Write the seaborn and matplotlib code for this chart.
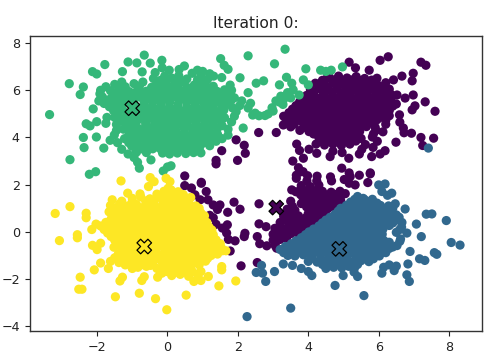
import pandas as pd
import matplotlib
matplotlib.use("Agg")
import matplotlib.pyplot as plt
import seaborn as sns

# Points, one list per cluster
green_points = [
    (-3.35, 4.97), (-2.79, 6.28), (-2.39, 6.14), (-2.48, 5.82), (-2.13, 6.79), (-2.01, 6.69), (-1.78, 7.09),
    (-1.28, 6.79), (-1.12, 7.2), (-0.87, 7.16), (-0.66, 7.49), (-0.49, 7.15), (-0.16, 7.27), (-0.72, 6.78),
    (0.48, 7.03), (0.33, 6.88), (1.51, 7.34), (1.61, 7.06), (1.72, 6.89), (1.54, 6.54), (2.06, 6.53),
    (1.78, 6.22), (2.29, 7.46), (2.29, 5.9), (2.11, 5.55), (2.29, 5.25), (2.15, 4.4), (-2.11, 5.21),
    (-2.39, 4.0), (-2.02, 4.02), (-2.37, 3.57), (-2.77, 3.06), (-1.81, 3.55), (-2.22, 2.44), (-2.04, 2.55),
    (-2.31, 4.58), (-2.2, 4.49), (-2.01, 4.67), (-1.51, 4.11), (-1.63, 3.88), (-0.47, 3.05), (-0.8, 2.7),
    (-0.12, 2.58), (0.1, 2.8), (-0.95, 3.15), (-0.85, 2.95), (0.0, 2.75),
    (3.34, 7.74), (3.04, 7.12), (3.93, 6.91), (4.35, 6.85), (4.65, 6.85), (4.97, 6.99), (4.5, 6.8),
    (3.38, 6.55), (2.73, 6.4), (2.52, 6.3), (3.18, 6.23), (3.53, 6.3), (3.86, 6.44), (4.0, 6.23),
    (3.57, 6.02), (3.74, 5.8), (3.41, 5.9), (3.22, 5.75), (3.08, 5.55), (2.97, 5.26), (3.3, 5.62),
    (3.5, 5.68), (2.77, 4.93), (2.49, 5.03), (2.36, 5.45), (3.0, 5.12), (3.28, 5.4), (3.18, 5.5),
    (-0.08, 6.6), (0.12, 6.52), (0.32, 6.62), (0.55, 6.48), (0.95, 6.58), (1.14, 6.47), (1.31, 6.6),
    (-0.95, 6.28), (-0.7, 6.35), (-0.3, 6.24), (-0.05, 6.33), (0.2, 6.25), (0.44, 6.36), (0.76, 6.22), (1.02, 6.3),
    (-1.62, 5.98), (-1.36, 6.05), (-1.1, 5.95), (-0.84, 6.04), (-0.6, 5.96), (-0.36, 6.06), (-0.1, 5.97),
    (0.15, 6.03), (0.41, 5.95), (0.65, 6.05), (0.9, 5.98), (1.16, 6.02), (1.4, 5.96), (1.62, 6.02),
    (-1.85, 5.72), (-1.6, 5.66), (-1.34, 5.76), (-1.1, 5.68), (-0.8, 5.74), (-0.55, 5.66), (-0.3, 5.75), (-0.05, 5.68),
    (0.2, 5.74), (0.45, 5.67), (0.7, 5.76), (0.95, 5.68), (1.2, 5.74), (1.45, 5.66), (1.7, 5.74), (1.9, 5.68),
    (-1.8, 5.44), (-1.5, 5.4), (-1.26, 5.5), (-0.66, 5.42), (-0.42, 5.5), (-0.18, 5.42), (0.06, 5.48), (0.3, 5.4),
    (0.54, 5.5), (0.78, 5.42), (1.02, 5.48), (1.26, 5.41), (1.5, 5.47), (1.72, 5.42),
    (-1.53, 5.13), (-1.28, 5.2), (-1.03, 5.1), (-0.78, 5.18), (-0.54, 5.11), (-0.3, 5.19), (-0.06, 5.12), (0.18, 5.18),
    (0.42, 5.1), (0.66, 5.2), (0.9, 5.12), (1.14, 5.18), (1.38, 5.1), (1.6, 5.16),
    (-1.5, 4.85), (-1.24, 4.8), (-1.0, 4.9), (-0.76, 4.82), (-0.52, 4.88), (-0.28, 4.8), (-0.04, 4.88), (0.2, 4.82),
    (0.44, 4.9), (0.68, 4.82), (0.92, 4.88), (1.16, 4.8), (1.36, 4.88), (1.62, 4.84), (1.82, 4.66),
    (-1.45, 4.55), (-1.2, 4.6), (-0.96, 4.52), (-0.62, 4.58), (-0.38, 4.5), (-0.14, 4.58), (0.1, 4.52), (0.34, 4.58),
    (0.58, 4.5), (0.82, 4.58), (1.06, 4.52), (1.3, 4.56), (1.55, 4.5), (1.72, 4.35),
    (-0.96, 4.24), (-0.72, 4.3), (-0.48, 4.22), (-0.24, 4.3), (0.0, 4.22), (0.24, 4.28), (0.48, 4.2), (0.72, 4.28),
    (0.96, 4.22), (1.2, 4.26), (1.42, 4.14),
    (-1.22, 3.95), (-0.98, 3.9), (-0.74, 3.98), (-0.5, 3.9), (-0.26, 3.96), (-0.02, 3.9), (0.22, 3.96), (0.46, 3.9),
    (0.7, 3.96), (0.94, 3.9), (1.16, 3.94), (1.38, 3.84), (-1.42, 3.78),
    (-1.02, 3.64), (-0.78, 3.6), (-0.54, 3.66), (-0.3, 3.6), (-0.06, 3.65), (0.18, 3.6), (0.42, 3.66), (0.66, 3.6), (0.92, 3.62),
    (-0.88, 3.38), (-0.6, 3.36), (-0.14, 3.34), (0.06, 3.3), (0.28, 3.34), (0.52, 3.32), (0.74, 3.36),
    # between the rows above
    (-0.2, 6.42), (0.2, 6.4), (0.85, 6.44), (1.1, 6.4),
    (-1.2, 6.15), (-0.8, 6.17), (-0.45, 6.13), (-0.2, 6.16), (0.05, 6.14), (0.3, 6.17), (0.55, 6.13), (0.85, 6.16), (1.1, 6.14), (1.3, 6.17),
    (-1.5, 5.87), (-1.25, 5.84), (-1.0, 5.88), (-0.72, 5.85), (-0.48, 5.88), (-0.22, 5.84), (0.03, 5.87), (0.28, 5.85),
    (0.53, 5.88), (0.78, 5.85), (1.03, 5.87), (1.28, 5.84), (1.52, 5.87), (1.78, 5.85),
    (-1.72, 5.58), (-1.45, 5.55), (-1.2, 5.6), (-0.95, 5.56), (-0.68, 5.58), (-0.42, 5.55), (-0.18, 5.59), (0.07, 5.56),
    (0.32, 5.6), (0.57, 5.56), (0.82, 5.58), (1.07, 5.55), (1.32, 5.59), (1.57, 5.56), (1.8, 5.55),
    (-1.65, 5.3), (-1.4, 5.27), (-0.7, 5.3), (-0.45, 5.28), (-0.2, 5.31), (0.05, 5.28), (0.3, 5.3), (0.55, 5.27),
    (0.8, 5.31), (1.05, 5.28), (1.3, 5.3), (1.55, 5.28),
    (-1.4, 5.0), (-1.15, 4.98), (-0.9, 5.02), (-0.65, 4.99), (-0.4, 5.02), (-0.15, 4.98), (0.08, 5.01), (0.32, 4.98),
    (0.56, 5.02), (0.8, 4.98), (1.04, 5.01), (1.28, 4.98), (1.5, 5.0),
    (-1.35, 4.7), (-1.1, 4.68), (-0.86, 4.72), (-0.62, 4.69), (-0.38, 4.72), (-0.14, 4.68), (0.1, 4.71), (0.34, 4.68),
    (0.58, 4.72), (0.82, 4.69), (1.06, 4.71), (1.3, 4.68), (1.52, 4.7),
    (-1.1, 4.4), (-0.82, 4.38), (-0.55, 4.42), (-0.3, 4.38), (-0.06, 4.41), (0.2, 4.38), (0.46, 4.42), (0.7, 4.39),
    (0.94, 4.41), (1.18, 4.38), (1.42, 4.4),
    (-1.1, 4.08), (-0.85, 4.06), (-0.6, 4.1), (-0.36, 4.07), (-0.12, 4.1), (0.12, 4.06), (0.36, 4.09), (0.6, 4.06),
    (0.84, 4.1), (1.08, 4.07), (1.3, 4.06),
    (-1.1, 3.78), (-0.86, 3.76), (-0.62, 3.8), (-0.38, 3.77), (-0.14, 3.8), (0.1, 3.76), (0.34, 3.79), (0.58, 3.76),
    (0.82, 3.8), (1.02, 3.77),
    (-0.9, 3.5), (-0.66, 3.48), (-0.42, 3.52), (-0.18, 3.49), (0.06, 3.52), (0.3, 3.48), (0.54, 3.5), (0.78, 3.48),
    # fringe of the blob
    (-1.9, 6.0), (-1.92, 5.85), (-1.95, 5.55), (-1.75, 6.15), (-1.5, 6.25), (-1.3, 6.35), (-1.72, 4.85), (-1.75, 4.6),
    (-1.25, 4.35), (-1.45, 4.3), (-1.3, 3.5), (-1.12, 3.3), (0.95, 3.35), (1.2, 3.65), (1.55, 3.95), (1.72, 4.1),
    (1.9, 4.9), (1.95, 5.1), (1.85, 5.25), (2.05, 5.35), (1.82, 6.0), (2.42, 4.95), (2.6, 4.92), (2.86, 5.0),
    (0.7, 6.72), (0.85, 6.85), (1.0, 6.8), (1.2, 6.7), (-0.35, 6.75), (-0.15, 6.95), (0.05, 6.85), (-0.4, 6.5),
]

purple_points = [
    (5.16, 7.19), (5.34, 6.95), (6.04, 7.27), (6.27, 7.42), (7.2, 7.19), (7.34, 7.06), (6.98, 6.72), (6.95, 6.4),
    (5.73, 6.85), (6.66, 6.6), (6.42, 6.44), (5.95, 6.51), (4.53, 6.51), (6.98, 5.8), (7.32, 5.51), (7.6, 5.11),
    (6.75, 5.67), (6.52, 5.8), (6.95, 5.17), (7.03, 5.34), (7.56, 3.97), (7.2, 4.0), (7.25, 3.66), (6.93, 4.18),
    (6.7, 4.4), (6.72, 4.2), (6.49, 3.8), (6.59, 4.96), (6.6, 4.65), (2.59, 4.21), (3.09, 4.21), (3.29, 4.53),
    (3.67, 3.72), (3.56, 3.0), (3.86, 3.12), (3.75, 3.45), (4.02, 3.5), (4.24, 3.33), (4.62, 3.19), (4.95, 2.7),
    (5.15, 3.12), (5.45, 3.3), (5.8, 3.19), (6.04, 3.3), (6.18, 3.44), (3.72, 2.72), (3.85, 2.55), (3.66, 2.4),
    (3.98, 2.38), (4.25, 2.36), (4.63, 2.33), (5.16, 2.5), (5.45, 2.4), (5.76, 2.5),
    (1.95, 3.9), (2.18, 3.67), (2.21, 3.33), (1.99, 3.03), (1.54, 3.44), (1.38, 3.03), (1.38, 2.88), (0.49, 2.37),
    (0.96, 2.1), (0.49, 1.96), (0.68, 1.86), (0.78, 1.57), (0.93, 1.36), (0.96, 2.06), (1.1, 1.71), (1.15, 1.36),
    (1.3, 1.14), (1.49, 1.14), (1.89, 1.26), (2.06, 0.96), (1.71, 0.83), (1.42, 0.95), (1.2, 0.7), (1.07, 0.51),
    (1.3, 0.6), (1.38, 0.32), (1.7, 0.3), (1.56, 0.16), (1.68, -0.05), (2.2, -0.06), (2.18, -0.2), (1.73, -0.32),
    (1.92, -0.38), (1.78, -0.81), (2.09, -1.44), (3.79, 2.55), (5.19, 2.34), (5.76, 2.46), (3.66, 2.27), (3.96, 2.16),
    (4.24, 2.16), (4.66, 2.16), (5.02, 2.22), (5.69, 2.09), (5.16, 2.06), (5.33, 1.99), (3.53, 1.78), (2.6, 1.19),
    (2.6, 0.34), (2.8, 0.22), (2.55, -0.2), (2.62, -0.5), (2.82, -0.59), (2.55, -1.3), (3.1, -0.69),
    (4.6, 6.55), (4.86, 6.6), (5.1, 6.52), (5.36, 6.58), (5.6, 6.5),
    (4.2, 6.3), (4.45, 6.24), (4.7, 6.32), (4.95, 6.26), (5.2, 6.33), (5.45, 6.25), (5.7, 6.3), (5.96, 6.24), (6.2, 6.32),
    (4.06, 6.03), (4.3, 6.08), (4.55, 6.0), (4.8, 6.06), (5.05, 5.98), (5.3, 6.05), (5.55, 5.98), (5.8, 6.06), (6.05, 6.0), (6.3, 6.05),
    (3.95, 5.78), (4.2, 5.72), (4.45, 5.8), (4.7, 5.74), (4.95, 5.8), (5.2, 5.72), (5.45, 5.8), (5.7, 5.74), (5.95, 5.78), (6.2, 5.72), (6.35, 5.82),
    (3.75, 5.5), (4.0, 5.45), (4.25, 5.52), (4.5, 5.46), (4.75, 5.52), (5.0, 5.45), (5.25, 5.52), (5.5, 5.46), (5.75, 5.5), (6.0, 5.44), (6.25, 5.5), (6.5, 5.42),
    (3.55, 5.2), (3.8, 5.15), (4.05, 5.22), (4.3, 5.16), (4.55, 5.22), (4.8, 5.15), (5.05, 5.22), (5.3, 5.16), (5.55, 5.22), (5.8, 5.15), (6.05, 5.2), (6.3, 5.14),
    (3.3, 4.9), (3.55, 4.85), (3.8, 4.92), (4.05, 4.86), (4.3, 4.92), (4.55, 4.85), (4.8, 4.92), (5.05, 4.86), (5.3, 4.92), (5.55, 4.85), (5.8, 4.9), (6.05, 4.86), (6.3, 4.92),
    (3.35, 4.6), (3.6, 4.56), (3.85, 4.62), (4.1, 4.56), (4.35, 4.62), (4.6, 4.55), (4.85, 4.62), (5.1, 4.56), (5.35, 4.62), (5.6, 4.55), (5.85, 4.6), (6.2, 4.56),
    (3.76, 4.3), (4.02, 4.25), (4.28, 4.32), (4.54, 4.26), (4.78, 4.32), (5.02, 4.26), (5.26, 4.32), (5.46, 4.26), (5.92, 4.3), (6.12, 4.24),
    (4.3, 4.0), (4.54, 3.96), (4.78, 4.02), (5.02, 3.96), (5.26, 4.02), (5.5, 3.96), (5.82, 4.02), (5.96, 3.84),
    (4.22, 3.72), (4.46, 3.68), (4.7, 3.72), (4.94, 3.66), (5.18, 3.72), (5.62, 3.7), (5.84, 3.58),
    (4.7, 3.42), (4.96, 3.36), (5.52, 3.5),
    (3.8, 1.96), (4.05, 1.92), (4.3, 1.98),
    (3.65, 1.7), (3.9, 1.74), (4.15, 1.68), (4.4, 1.72), (4.65, 1.68), (4.9, 1.72),
    (3.85, 1.45), (4.1, 1.42), (4.35, 1.48), (4.6, 1.42), (4.85, 1.46), (5.05, 1.62),
    (3.5, 1.3), (3.8, 1.2), (4.05, 1.24), (4.3, 1.18), (4.55, 1.24), (4.8, 1.2),
    (3.4, 0.96), (3.62, 0.92), (4.1, 0.96), (4.35, 0.92), (4.55, 0.98),
    (3.3, 0.66), (3.55, 0.62), (3.72, 0.68), (4.2, 0.66), (4.4, 0.62), (3.95, 0.62),
    (3.2, 0.4), (3.45, 0.36), (3.7, 0.42), (3.95, 0.36), (4.15, 0.42),
    (3.05, 0.15), (3.3, 0.12), (3.55, 0.16), (3.8, 0.12), (3.96, 0.22),
    (3.0, -0.1), (3.25, -0.12), (3.5, -0.08), (3.66, -0.02),
    (3.0, -0.35), (3.2, -0.32), (3.38, -0.26), (3.06, -0.58),
    # between the rows above
    (4.4, 6.42), (4.75, 6.44), (5.0, 6.41), (5.25, 6.44), (5.5, 6.41), (5.8, 6.43),
    (4.3, 6.17), (4.55, 6.15), (4.82, 6.18), (5.08, 6.15), (5.32, 6.18), (5.58, 6.15), (5.82, 6.17), (6.08, 6.15),
    (4.15, 5.92), (4.42, 5.9), (4.68, 5.93), (4.92, 5.9), (5.18, 5.93), (5.42, 5.9), (5.68, 5.92), (5.92, 5.9), (6.18, 5.92),
    (3.85, 5.65), (4.1, 5.62), (4.35, 5.66), (4.6, 5.63), (4.85, 5.66), (5.1, 5.62), (5.35, 5.65), (5.6, 5.62), (5.85, 5.66), (6.1, 5.63), (6.35, 5.65),
    (3.65, 5.35), (3.9, 5.33), (4.15, 5.36), (4.4, 5.33), (4.65, 5.36), (4.9, 5.32), (5.15, 5.35), (5.4, 5.33), (5.65, 5.36), (5.9, 5.33), (6.15, 5.35), (6.4, 5.33),
    (3.45, 5.05), (3.7, 5.03), (3.95, 5.06), (4.2, 5.03), (4.45, 5.06), (4.7, 5.02), (4.95, 5.05), (5.2, 5.03), (5.45, 5.06), (5.7, 5.03), (5.95, 5.05), (6.2, 5.03),
    (3.45, 4.75), (3.7, 4.73), (3.95, 4.76), (4.2, 4.73), (4.45, 4.76), (4.7, 4.72), (4.95, 4.75), (5.2, 4.73), (5.45, 4.76), (5.7, 4.73), (5.95, 4.75), (6.2, 4.73),
    (3.5, 4.45), (3.9, 4.43), (4.15, 4.46), (4.4, 4.43), (4.65, 4.46), (4.9, 4.42), (5.15, 4.45), (5.4, 4.43), (5.65, 4.46), (5.9, 4.43),
    (4.15, 4.15), (4.4, 4.13), (4.65, 4.16), (4.9, 4.13), (5.15, 4.16), (5.4, 4.13), (5.85, 4.15),
    (4.4, 3.85), (4.65, 3.83), (4.9, 3.86), (5.1, 3.83), (5.35, 3.85),
    (3.8, 1.82), (4.05, 1.8), (4.28, 1.83),
    (3.78, 1.58), (4.02, 1.56), (4.28, 1.59), (4.52, 1.56), (4.78, 1.58), (4.95, 1.56),
    (3.95, 1.32), (4.2, 1.3), (4.45, 1.33), (4.7, 1.3), (4.92, 1.32),
    (3.55, 1.08), (3.95, 1.06), (4.18, 1.09), (4.42, 1.06), (4.68, 1.08),
    (3.5, 0.8), (4.0, 0.78), (4.25, 0.81), (4.48, 0.78),
    (3.35, 0.52), (3.6, 0.5), (3.85, 0.53), (4.08, 0.5), (4.3, 0.52),
    (3.2, 0.27), (3.45, 0.25), (3.7, 0.28), (3.92, 0.25),
    (3.15, 0.02), (3.4, 0.0), (3.65, 0.03),
    (3.12, -0.22), (3.35, -0.2),
]

blue_points = [
    (6.0, 1.99), (6.18, 2.03), (6.09, 1.71), (6.37, 1.64), (6.25, 1.55), (6.47, 1.19), (6.75, 0.97), (7.35, 0.75),
    (7.51, 0.76), (7.92, 0.48), (7.07, 0.33), (7.21, -0.2), (6.8, -0.05), (8.06, -0.45), (8.31, -0.56), (7.65, -0.95),
    (7.58, -0.88), (6.89, -0.83), (7.16, -1.14), (7.31, -1.21), (6.83, -1.36), (6.44, -1.64), (6.3, -1.4), (6.5, -1.45),
    (6.14, -1.5), (6.09, -1.75), (6.8, -1.82), (6.87, -2.1), (4.76, -2.27), (5.58, -2.7), (3.5, -3.23), (2.26, -3.59),
    (3.04, -1.68), (2.52, -1.72), (2.67, -1.42), (2.79, -2.1), (2.7, -1.75), (3.29, -1.36), (3.55, -1.42), (3.8, -1.55),
    (4.1, -1.85), (4.0, -1.68), (4.5, -1.55), (4.99, -1.85), (5.4, -1.89), (5.3, -1.7), (7.41, 3.55),
    (5.4, 1.5), (5.56, 1.42), (5.2, 1.26), (5.45, 1.22), (5.7, 1.28), (5.95, 1.22),
    (4.92, 1.0), (5.15, 0.96), (5.4, 1.02), (5.65, 0.96), (5.9, 1.02), (6.15, 0.96), (6.4, 1.0),
    (4.76, 0.75), (5.0, 0.72), (5.25, 0.78), (5.5, 0.72), (5.75, 0.78), (6.0, 0.72), (6.25, 0.78), (6.5, 0.72),
    (4.5, 0.5), (4.75, 0.46), (5.0, 0.52), (5.25, 0.46), (5.5, 0.52), (5.75, 0.46), (6.0, 0.52), (6.25, 0.46), (6.5, 0.5), (6.66, 0.4),
    (4.3, 0.25), (4.55, 0.22), (4.8, 0.27), (5.05, 0.22), (5.3, 0.27), (5.55, 0.22), (5.8, 0.27), (6.05, 0.22), (6.3, 0.27), (6.65, 0.2),
    (4.02, 0.0), (4.26, -0.04), (4.5, 0.02), (4.75, -0.03), (5.0, 0.02), (5.25, -0.04), (5.5, 0.02), (5.75, -0.03), (6.0, 0.02), (6.5, -0.02),
    (3.8, -0.25), (4.05, -0.28), (4.3, -0.22), (4.55, -0.28), (4.8, -0.22), (5.05, -0.28), (5.3, -0.22), (5.55, -0.28), (5.8, -0.22), (6.05, -0.25), (6.62, -0.3),
    (3.52, -0.5), (3.76, -0.53), (4.0, -0.48), (4.25, -0.53), (4.5, -0.48), (5.1, -0.52), (5.35, -0.47), (5.6, -0.53), (5.85, -0.48), (6.1, -0.5), (6.3, -0.44), (6.52, -0.58),
    (3.2, -0.75), (3.44, -0.78), (3.68, -0.72), (3.92, -0.78), (4.16, -0.73), (4.4, -0.78), (4.66, -0.73), (5.1, -0.78), (5.35, -0.72), (5.6, -0.78), (5.85, -0.72), (6.1, -0.76), (6.3, -0.7),
    (3.42, -1.0), (3.62, -1.02), (3.86, -0.97), (4.1, -1.02), (4.35, -0.98), (4.6, -1.02), (4.85, -0.97), (5.1, -1.02), (5.35, -0.98), (5.6, -1.02), (5.85, -0.98), (6.02, -1.02),
    (4.0, -1.25), (4.25, -1.28), (4.5, -1.23), (4.75, -1.28), (5.0, -1.23), (5.25, -1.28), (5.5, -1.22), (5.72, -1.26),
    (4.72, -1.5), (4.95, -1.52), (5.15, -1.46), (5.32, -1.5),
    # between the rows above
    (5.32, 1.38), (5.6, 1.36), (5.82, 1.38),
    (5.08, 1.12), (5.32, 1.1), (5.58, 1.13), (5.82, 1.1), (6.05, 1.12), (6.28, 1.1),
    (4.85, 0.88), (5.1, 0.86), (5.35, 0.89), (5.6, 0.86), (5.85, 0.88), (6.1, 0.86), (6.35, 0.88),
    (4.62, 0.62), (4.88, 0.6), (5.12, 0.63), (5.38, 0.6), (5.62, 0.62), (5.88, 0.6), (6.12, 0.63), (6.38, 0.6), (6.58, 0.62),
    (4.4, 0.38), (4.65, 0.36), (4.9, 0.39), (5.15, 0.36), (5.4, 0.38), (5.65, 0.36), (5.9, 0.39), (6.15, 0.36), (6.4, 0.38),
    (4.15, 0.12), (4.4, 0.1), (4.65, 0.13), (4.9, 0.1), (5.15, 0.12), (5.4, 0.1), (5.65, 0.13), (5.9, 0.1), (6.12, 0.12), (6.6, 0.1),
    (3.92, -0.12), (4.15, -0.14), (4.4, -0.11), (4.65, -0.14), (4.9, -0.12), (5.15, -0.14), (5.4, -0.11), (5.65, -0.14), (5.9, -0.12), (6.1, -0.1),
    (3.65, -0.38), (3.9, -0.4), (4.15, -0.37), (4.4, -0.4), (4.65, -0.38), (4.9, -0.4), (5.15, -0.37), (5.4, -0.4), (5.65, -0.38), (5.9, -0.4), (6.15, -0.37), (6.6, -0.4),
    (3.35, -0.62), (3.6, -0.64), (3.85, -0.61), (4.1, -0.64), (4.35, -0.62), (4.6, -0.64), (5.2, -0.61), (5.45, -0.64), (5.7, -0.62), (5.95, -0.64), (6.2, -0.61), (6.4, -0.64),
    (3.3, -0.88), (3.55, -0.9), (3.8, -0.87), (4.05, -0.9), (4.3, -0.88), (4.55, -0.9), (4.8, -0.87), (5.0, -0.9), (5.25, -0.88), (5.5, -0.9), (5.75, -0.87), (6.0, -0.9), (6.2, -0.88),
    (4.1, -1.12), (4.35, -1.14), (4.6, -1.11), (4.85, -1.14), (5.1, -1.12), (5.35, -1.14), (5.6, -1.11), (5.85, -1.14),
    (4.4, -1.38), (4.65, -1.4), (4.9, -1.37), (5.12, -1.4), (5.4, -1.38),
]

yellow_points = [
    (-3.19, 0.78), (-2.77, 1.07), (-2.31, 0.79), (-2.31, 0.6), (-3.07, -0.37), (-2.56, -0.12), (-2.56, -0.25), (-2.15, 0.1),
    (-2.03, 0.33), (-2.13, -0.57), (-2.0, -0.75), (-1.9, -0.48), (-2.08, -1.61), (-2.48, -1.92), (-2.52, -2.43), (-2.43, -2.43),
    (-1.9, -1.32), (-1.68, -1.55), (-1.28, -1.92), (-1.35, -2.08), (-1.48, -2.75), (-0.8, -2.6), (-0.34, -2.83), (-0.02, -3.3),
    (0.53, -2.68), (1.46, -2.29), (1.94, -2.08), (1.54, -1.61), (1.54, -1.47), (1.16, -1.89), (0.95, -1.68), (0.75, -2.1),
    (0.95, -2.06), (-0.66, -1.9), (-0.73, -2.06), (-0.28, -1.92), (-1.32, 2.16), (-0.54, 1.92), (-0.49, 2.3), (-0.38, 2.13),
    (-0.04, 2.27), (0.07, 2.13), (0.02, 1.85), (0.12, 1.65), (-1.13, 1.64), (-0.78, 1.61), (-1.57, 1.36),
    (-0.1, 1.72), (0.1, 1.78), (0.3, 1.7),
    (-1.0, 1.42), (-0.76, 1.48), (-0.5, 1.4), (-0.26, 1.47), (0.0, 1.42), (0.24, 1.48), (0.48, 1.42), (0.66, 1.46),
    (-1.62, 1.12), (-1.36, 1.18), (-1.12, 1.1), (-0.88, 1.16), (-0.64, 1.1), (-0.4, 1.17), (-0.16, 1.1), (0.08, 1.16), (0.32, 1.1), (0.56, 1.16), (0.8, 1.1),
    (-1.66, 0.85), (-1.42, 0.8), (-1.18, 0.88), (-0.94, 0.82), (-0.7, 0.88), (-0.46, 0.8), (-0.22, 0.88), (0.02, 0.82), (0.26, 0.88), (0.5, 0.8), (0.74, 0.86), (0.95, 0.8),
    (-1.6, 0.55), (-1.36, 0.5), (-1.12, 0.58), (-0.88, 0.52), (-0.64, 0.58), (-0.4, 0.5), (-0.16, 0.57), (0.08, 0.52), (0.32, 0.58), (0.56, 0.5), (0.8, 0.56), (1.04, 0.5),
    (-1.9, 0.25), (-1.66, 0.2), (-1.42, 0.28), (-1.18, 0.22), (-0.94, 0.28), (-0.7, 0.2), (-0.46, 0.27), (-0.22, 0.22), (0.02, 0.28), (0.26, 0.2), (0.5, 0.26), (0.74, 0.2), (0.98, 0.26), (1.18, 0.2),
    (-1.7, -0.05), (-1.46, -0.1), (-1.22, -0.02), (-0.98, -0.08), (-0.74, -0.02), (-0.5, -0.1), (-0.26, -0.03), (-0.02, -0.08), (0.22, -0.02), (0.46, -0.1), (0.7, -0.04), (0.94, -0.1), (1.18, -0.04), (1.3, -0.12),
    (-1.5, -0.35), (-1.26, -0.4), (-1.02, -0.32), (-0.78, -0.38), (-0.54, -0.32), (-0.3, -0.4), (-0.06, -0.33), (0.18, -0.38), (0.42, -0.32), (0.66, -0.4), (0.9, -0.34), (1.14, -0.4), (1.38, -0.34),
    (-1.52, -0.65), (-1.28, -0.7), (-1.04, -0.62), (-0.38, -0.68), (-0.14, -0.62), (0.1, -0.7), (0.34, -0.63), (0.58, -0.68), (0.82, -0.62), (1.06, -0.7), (1.3, -0.64), (1.54, -0.7), (1.66, -0.8),
    (-1.4, -0.95), (-1.16, -1.0), (-0.92, -0.92), (-0.68, -0.98), (-0.44, -0.92), (-0.2, -1.0), (0.04, -0.93), (0.28, -0.98), (0.52, -0.92), (0.76, -1.0), (1.0, -0.94), (1.24, -1.0), (1.42, -0.94),
    (-1.62, -1.25), (-1.38, -1.3), (-1.14, -1.22), (-0.9, -1.28), (-0.66, -1.22), (-0.42, -1.3), (-0.18, -1.23), (0.06, -1.28), (0.3, -1.22), (0.54, -1.28), (0.78, -1.3), (1.08, -1.24),
    (-1.0, -1.55), (-0.84, -1.5), (-0.6, -1.46), (-0.3, -1.55), (-0.06, -1.5), (0.18, -1.57), (0.42, -1.5), (0.66, -1.56),
    (-0.16, -1.75), (0.12, -1.85), (0.36, -1.8), (0.6, -1.88), (0.86, -1.82),
    # between the rows above
    (-0.3, 1.6), (-0.05, 1.58), (0.2, 1.61), (0.45, 1.58),
    (-1.3, 1.3), (-1.0, 1.28), (-0.62, 1.31), (-0.38, 1.28), (-0.12, 1.3), (0.12, 1.28), (0.36, 1.31), (0.6, 1.28),
    (-1.5, 1.0), (-1.25, 0.98), (-1.0, 1.01), (-0.76, 0.98), (-0.52, 1.0), (-0.28, 0.98), (-0.04, 1.01), (0.2, 0.98), (0.44, 1.0), (0.68, 0.98), (0.9, 1.0),
    (-1.54, 0.7), (-1.3, 0.68), (-1.06, 0.71), (-0.82, 0.68), (-0.58, 0.7), (-0.34, 0.68), (-0.1, 0.71), (0.14, 0.68), (0.38, 0.7), (0.62, 0.68), (0.86, 0.71), (1.05, 0.68),
    (-1.75, 0.4), (-1.5, 0.38), (-1.25, 0.41), (-1.0, 0.38), (-0.76, 0.4), (-0.52, 0.38), (-0.28, 0.41), (-0.04, 0.38), (0.2, 0.4), (0.44, 0.38), (0.68, 0.41), (0.92, 0.38), (1.12, 0.4),
    (-1.8, 0.1), (-1.55, 0.08), (-1.32, 0.11), (-1.08, 0.08), (-0.84, 0.1), (-0.6, 0.08), (-0.36, 0.11), (-0.12, 0.08), (0.12, 0.1), (0.36, 0.08), (0.6, 0.11), (0.84, 0.08), (1.08, 0.1), (1.26, 0.08),
    (-1.6, -0.2), (-1.36, -0.22), (-1.12, -0.19), (-0.88, -0.22), (-0.64, -0.2), (-0.4, -0.22), (-0.16, -0.19), (0.08, -0.22), (0.32, -0.2), (0.56, -0.22), (0.8, -0.19), (1.04, -0.22), (1.28, -0.2),
    (-1.4, -0.5), (-1.16, -0.52), (-0.92, -0.49), (-0.68, -0.52), (-0.44, -0.5), (-0.2, -0.52), (0.04, -0.49), (0.28, -0.52), (0.52, -0.5), (0.76, -0.52), (1.0, -0.49), (1.24, -0.52), (1.5, -0.5),
    (-1.3, -0.8), (-1.06, -0.82), (-0.82, -0.79), (-0.58, -0.82), (-0.34, -0.8), (-0.08, -0.82), (0.18, -0.79), (0.42, -0.82), (0.66, -0.8), (0.9, -0.82), (1.14, -0.79), (1.38, -0.82), (1.56, -0.8),
    (-1.5, -1.1), (-1.26, -1.12), (-1.02, -1.09), (-0.78, -1.12), (-0.54, -1.1), (-0.3, -1.12), (-0.06, -1.09), (0.18, -1.12), (0.42, -1.1), (0.66, -1.12), (0.9, -1.09), (1.14, -1.12),
    (-1.2, -1.4), (-0.96, -1.42), (-0.72, -1.39), (-0.48, -1.42), (-0.12, -1.4), (0.12, -1.42), (0.36, -1.39), (0.6, -1.42), (0.9, -1.4),
    (-0.02, -1.68), (0.24, -1.7), (0.48, -1.67), (0.72, -1.7),
]

centroid_x = [3.09, 4.88, -1.0, -0.66]
centroid_y = [1.03, -0.72, 5.24, -0.62]
centroid_labels = [0, 1, 2, 3]

x_ticks = [-2, 0, 2, 4, 6, 8]
y_ticks = [-4, -2, 0, 2, 4, 6, 8]

# Build one table of points
clusters = {0: purple_points, 1: blue_points, 2: green_points, 3: yellow_points}
rows = []
for label, pts in clusters.items():
    for px, py in pts:
        rows.append({"x": px, "y": py, "cluster": label})
df = pd.DataFrame(rows)
centroids = pd.DataFrame({"x": centroid_x, "y": centroid_y, "cluster": centroid_labels})

sns.set_style("ticks")
plt.rcParams['font.family'] = ['DejaVu Sans']
plt.rcParams['axes.linewidth'] = 1.0

fig, ax = plt.subplots(figsize=(4.99, 3.63), dpi=100)
fig.subplots_adjust(left=29.5 / 499, right=481.5 / 499, top=1 - 36 / 363, bottom=1 - 331 / 363)

sns.scatterplot(data=df, x="x", y="y", hue="cluster", palette="viridis", s=44,
                linewidth=0, alpha=1, legend=False, ax=ax)
sns.scatterplot(data=centroids, x="x", y="y", hue="cluster", palette="viridis", marker="X",
                s=110, edgecolor="black", linewidth=0.9, legend=False, ax=ax, zorder=3)

ax.set_xlim(-3.92, 8.92)
ax.set_ylim(-4.2, 8.3)
ax.set_xticks(x_ticks)
ax.set_yticks(y_ticks)
ax.set_xlabel("")
ax.set_ylabel("")
ax.tick_params(labelsize=9.2, length=3.5, width=0.8, colors="#222222")
for side in ax.spines.values():
    side.set_visible(True)
    side.set_color("#333333")
ax.set_title("Iteration 0:", fontsize=11.2, color="#222222", pad=6)

fig.savefig("out.png", dpi=100)
